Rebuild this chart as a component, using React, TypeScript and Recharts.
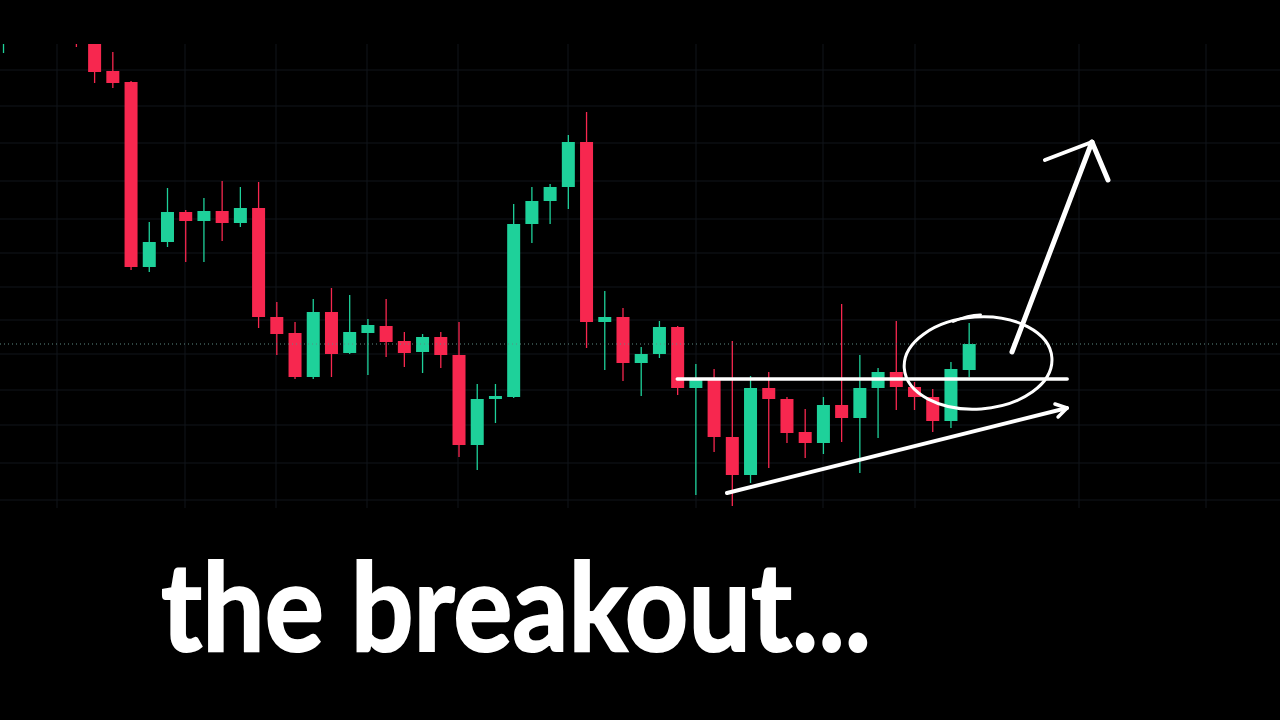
import React from 'react'
import {
  Bar,
  CartesianGrid,
  ComposedChart,
  ReferenceDot,
  ReferenceLine,
  XAxis,
  YAxis
} from 'recharts'

// candle index (time slot) and OHLC prices
const slots = [-4, 0, 1, 2, 3, 4, 5, 6, 7, 8, 9, 10, 11, 12, 13, 14, 15, 16, 17, 18, 19, 20, 21, 22, 23, 24, 25, 26, 27, 28, 29, 30, 31, 32, 33, 34, 35, 36, 37, 38, 39, 40, 41, 42, 43, 44, 45, 46, 47, 48, 49]
const opens = [500, 510, 490, 449, 438, 253, 278, 308, 299, 309, 297, 312, 203, 187, 143, 208, 167, 187, 194, 179, 168, 183, 165, 75, 121, 123, 296, 319, 333, 378, 198, 203, 157, 166, 193, 132, 141, 83, 45, 132, 121, 88, 77, 115, 102, 132, 148, 133, 123, 99, 150]
const closes = [505, 490, 448, 437, 253, 278, 308, 299, 309, 297, 312, 203, 186, 143, 208, 166, 188, 195, 178, 167, 183, 165, 75, 121, 124, 296, 319, 333, 378, 198, 203, 157, 166, 193, 132, 141, 83, 45, 132, 121, 87, 77, 115, 102, 132, 148, 133, 123, 99, 151, 176]
const highs = [512, 515, 500, 468, 439, 298, 332, 310, 322, 339, 333, 338, 218, 198, 221, 232, 225, 201, 221, 188, 186, 188, 198, 136, 136, 316, 333, 336, 385, 408, 229, 212, 173, 199, 194, 156, 151, 179, 144, 148, 123, 111, 123, 216, 165, 152, 199, 138, 131, 158, 197]
const lows = [467, 473, 437, 432, 250, 248, 273, 258, 258, 279, 293, 192, 165, 141, 141, 143, 166, 145, 163, 153, 147, 152, 63, 50, 97, 122, 277, 296, 311, 172, 150, 139, 124, 162, 125, 25, 68, 14, 37, 52, 77, 62, 66, 78, 47, 82, 110, 110, 88, 92, 143]

const lastPrice = 176
const caption = 'the breakout...'

const UP = '#1ED19A'
const DOWN = '#F7274F'

const data = slots.map((i, k) => ({
  i,
  open: opens[k],
  close: closes[k],
  high: highs[k],
  low: lows[k],
  range: [lows[k], highs[k]]
}))

function Candle(props: any) {
  const { x, y, width, height, payload } = props
  if (!payload) return null
  const { open, close, high, low } = payload
  const h = Math.abs(height)
  const top = height < 0 ? y + height : y
  const ratio = h / (high - low || 1)
  const color = close >= open ? UP : DOWN
  const bodyTop = top + (high - Math.max(open, close)) * ratio
  const bodyH = Math.max(Math.abs(open - close) * ratio, 1.5)
  const cx = x + width / 2
  return (
    <g>
      <line x1={cx} x2={cx} y1={top} y2={top + h} stroke={color} strokeWidth={1.3} />
      <rect x={x} y={bodyTop} width={width} height={bodyH} fill={color} />
    </g>
  )
}

function Ellipse(props: any) {
  const { cx, cy } = props
  return (
    <g transform={`rotate(-4 ${cx} ${cy})`}>
      <ellipse cx={cx} cy={cy} rx={74} ry={46} fill="none" stroke="#fff" strokeWidth={3} />
      <path
        d={`M ${cx - 22} ${cy - 43} Q ${cx - 6} ${cy - 49} ${cx + 6} ${cy - 48}`}
        fill="none"
        stroke="#fff"
        strokeWidth={2.5}
        strokeLinecap="round"
      />
    </g>
  )
}

const line = { stroke: '#fff', strokeLinecap: 'round' as const }

export default function App() {
  return (
    <div style={{ position: 'absolute', top: 0, left: 0, width: 1280, height: 720, background: '#000', overflow: 'hidden' }}>
      <ComposedChart width={1280} height={720} data={data} margin={{ top: 44, right: 0, bottom: 212, left: 0 }}>
        <CartesianGrid
          stroke="#11141a"
          verticalPoints={[57, 185, 276, 367, 458, 568, 696, 823, 915, 1079, 1206]}
          horizontalPoints={[70, 106, 143, 181, 219, 253, 287, 320, 354, 390, 425, 463, 500]}
        />
        <XAxis type="number" dataKey="i" domain={[-4.1712, 66.081]} allowDataOverflow hide />
        <YAxis type="number" domain={[12, 476]} allowDataOverflow hide />
        <ReferenceLine y={lastPrice} stroke="#5f8a83" strokeDasharray="1 3" strokeWidth={1} />
        <Bar dataKey="range" barSize={13} shape={<Candle />} isAnimationActive={false} />
        <ReferenceLine segment={[{ x: 33.0, y: 141 }, { x: 54.4, y: 141 }]} {...line} strokeWidth={3.5} />
        <ReferenceLine segment={[{ x: 35.73, y: 27 }, { x: 54.39, y: 112 }]} {...line} strokeWidth={4} />
        <ReferenceLine segment={[{ x: 53.73, y: 116 }, { x: 54.39, y: 112 }]} {...line} strokeWidth={3.5} />
        <ReferenceLine segment={[{ x: 53.9, y: 103 }, { x: 54.39, y: 112 }]} {...line} strokeWidth={3.5} />
        <ReferenceLine segment={[{ x: 51.37, y: 168 }, { x: 55.76, y: 378 }]} {...line} strokeWidth={5} />
        <ReferenceLine segment={[{ x: 53.18, y: 360 }, { x: 55.76, y: 378 }]} {...line} strokeWidth={4} />
        <ReferenceLine segment={[{ x: 56.64, y: 340 }, { x: 55.76, y: 378 }]} {...line} strokeWidth={5} />
        <ReferenceDot x={49.51} y={157} shape={<Ellipse />} />
      </ComposedChart>
      <svg width={1280} height={720} style={{ position: 'absolute', top: 0, left: 0, pointerEvents: 'none' }}>
        <text
          x={161}
          y={651}
          fill="#fff"
          stroke="#fff"
          strokeWidth={2}
          fontFamily="Lato, 'Open Sans', sans-serif"
          fontWeight={700}
          fontSize={122}
          textLength={710}
          lengthAdjust="spacingAndGlyphs"
        >
          {caption}
        </text>
      </svg>
    </div>
  )
}
